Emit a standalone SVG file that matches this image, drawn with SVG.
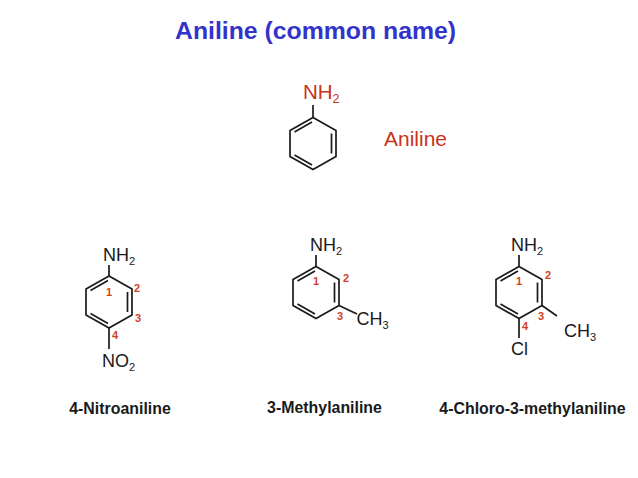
<svg xmlns="http://www.w3.org/2000/svg" width="638" height="478" viewBox="0 0 638 478">
<style>
text{font-family:"Liberation Sans",Arial,sans-serif}
.b{fill:none;stroke:#1a1a1a;stroke-width:1.7;stroke-linejoin:miter}
.t{font-size:18px;fill:#1a1a1a}
.s{font-size:11px;fill:#1a1a1a}
.tr{font-size:20.500px;fill:#c8331a}
.sr{font-size:12.500px;fill:#c8331a}
.n{font-size:11px;font-weight:bold;fill:#d0421f;text-anchor:middle}
.c{font-size:15.900px;font-weight:bold;fill:#1a1a1a;text-anchor:middle}
</style>
<defs>
<g id="ring" class="b">
<path d="M0-26L23-13V13L0 26L-23 13V-13Z"/>
<path d="M-18.500-11.500L-1-21.500M18.500-10V10M-18.500 11.500L-1 21.500"/>
</g>
</defs>
<rect width="638" height="478" fill="#fff"/>
<text id="title" x="315.500" y="39" font-size="24.800" font-weight="bold" fill="#3333cc" text-anchor="middle">Aniline (common name)</text>
<g id="aniline">
<use href="#ring" x="313" y="143.500"/>
<path class="b" d="M313 117V105"/>
<text class="tr" x="303" y="99">NH<tspan class="sr" dy="4">2</tspan></text>
<text x="384" y="146" font-size="21" fill="#c8331a">Aniline</text>
</g>
<g id="nitroaniline">
<use href="#ring" x="109" y="302"/>
<path class="b" d="M109 276V265M109 328V349"/>
<text class="t" x="103" y="261">NH<tspan class="s" dy="4">2</tspan></text>
<text class="t" x="102" y="367">NO<tspan class="s" dy="4">2</tspan></text>
<text class="n" x="109" y="296">1</text>
<text class="n" x="137" y="292">2</text>
<text class="n" x="138" y="322">3</text>
<text class="n" x="115" y="339">4</text>
<text class="c" x="120" y="414">4-Nitroaniline</text>
</g>
<g id="methylaniline">
<use href="#ring" x="316" y="292.500"/>
<path class="b" d="M316 266.500V255M339 305.500L357 314"/>
<text class="t" x="310" y="251">NH<tspan class="s" dy="4">2</tspan></text>
<text class="t" x="356.500" y="325">CH<tspan class="s" dy="4">3</tspan></text>
<text class="n" x="316" y="285">1</text>
<text class="n" x="346" y="282">2</text>
<text class="n" x="340" y="320">3</text>
<text class="c" x="324.500" y="413">3-Methylaniline</text>
</g>
<g id="chloromethylaniline">
<use href="#ring" x="519" y="292.500"/>
<path class="b" d="M519 266.500V255M542 305.500L557 316M519 318.500V338"/>
<text class="t" x="511" y="251">NH<tspan class="s" dy="4">2</tspan></text>
<text class="t" x="564" y="337">CH<tspan class="s" dy="4">3</tspan></text>
<text class="t" x="511" y="355">Cl</text>
<text class="n" x="519" y="285">1</text>
<text class="n" x="548" y="279">2</text>
<text class="n" x="541" y="320">3</text>
<text class="n" x="525" y="330">4</text>
<text class="c" x="532.500" y="414">4-Chloro-3-methylaniline</text>
</g>
</svg>
